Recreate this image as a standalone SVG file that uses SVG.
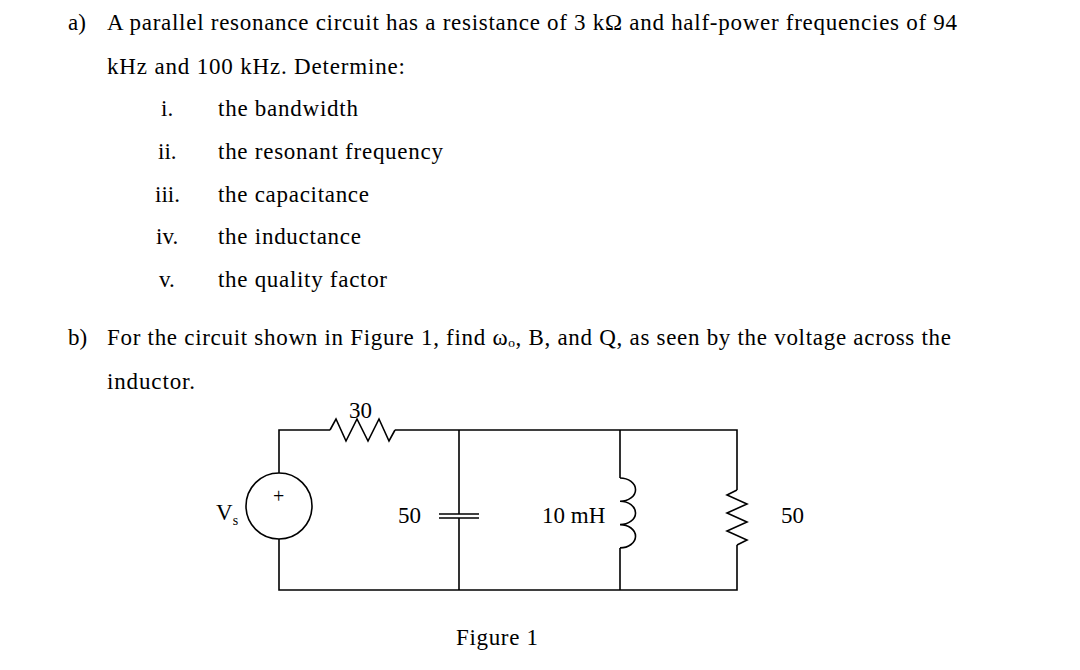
<svg xmlns="http://www.w3.org/2000/svg" width="1080" height="670" viewBox="0 0 1080 670">
<style>
text{font-family:"Liberation Serif","Times New Roman",serif;font-size:23px;fill:#000}
.w{fill:none;stroke:#000;stroke-width:1.6}
</style>
<rect width="1080" height="670" fill="#fff"/>
<g id="text">
<text x="68" y="30">a)</text>
<text x="107" y="30" textLength="850">A parallel resonance circuit has a resistance of 3 kΩ and half-power frequencies of 94</text>
<text x="107" y="74" textLength="298">kHz and 100 kHz. Determine:</text>
<text x="161" y="116">i.</text><text x="218" y="116" textLength="140">the bandwidth</text>
<text x="158" y="159">ii.</text><text x="218" y="159" textLength="225">the resonant frequency</text>
<text x="155" y="202">iii.</text><text x="218" y="202" textLength="151">the capacitance</text>
<text x="156" y="244">iv.</text><text x="218" y="244" textLength="143">the inductance</text>
<text x="159" y="287">v.</text><text x="218" y="287" textLength="169">the quality factor</text>
<text x="68" y="345">b)</text>
<text x="107" y="345" textLength="844">For the circuit shown in Figure 1, find ωₒ, B, and Q, as seen by the voltage across the</text>
<text x="107" y="389" textLength="88">inductor.</text>
<text x="456" y="645" textLength="82">Figure 1</text>
</g>
<g id="connectors">
<path class="w" d="M279,473 V430 H330 M395,430 H737 V490 M737,545 V590 H279 V539 M459,430 V514 M459,518 V590 M620,430 V478 M620,548 V590"/>
</g>
<g id="R30"><path class="w" d="M330,430 l6,-11 l10,22 l11,-22 l11,22 l11,-22 l10,22 l6,-11"/><text x="349" y="418">30</text></g>
<g id="Vs"><circle class="w" cx="279" cy="506" r="33"/><text x="273" y="503" style="font-size:20px">+</text><text x="216" y="520">V<tspan style="font-size:14px" dy="5">s</tspan></text></g>
<g id="C"><path class="w" d="M439,514 H479 M439,518 H479"/><text x="398" y="523">50</text></g>
<g id="L"><path class="w" d="M620,478 a12,9 0 1 1 0,23.3 a12,9 0 1 1 0,23.3 a12,9 0 1 1 0,23.3"/><text x="542" y="523">10 mH</text></g>
<g id="R50"><path class="w" d="M737,490 l-10,5 l20,9 l-20,9 l20,9 l-20,9 l20,9 l-10,5"/><text x="781" y="523">50</text></g>
</svg>
